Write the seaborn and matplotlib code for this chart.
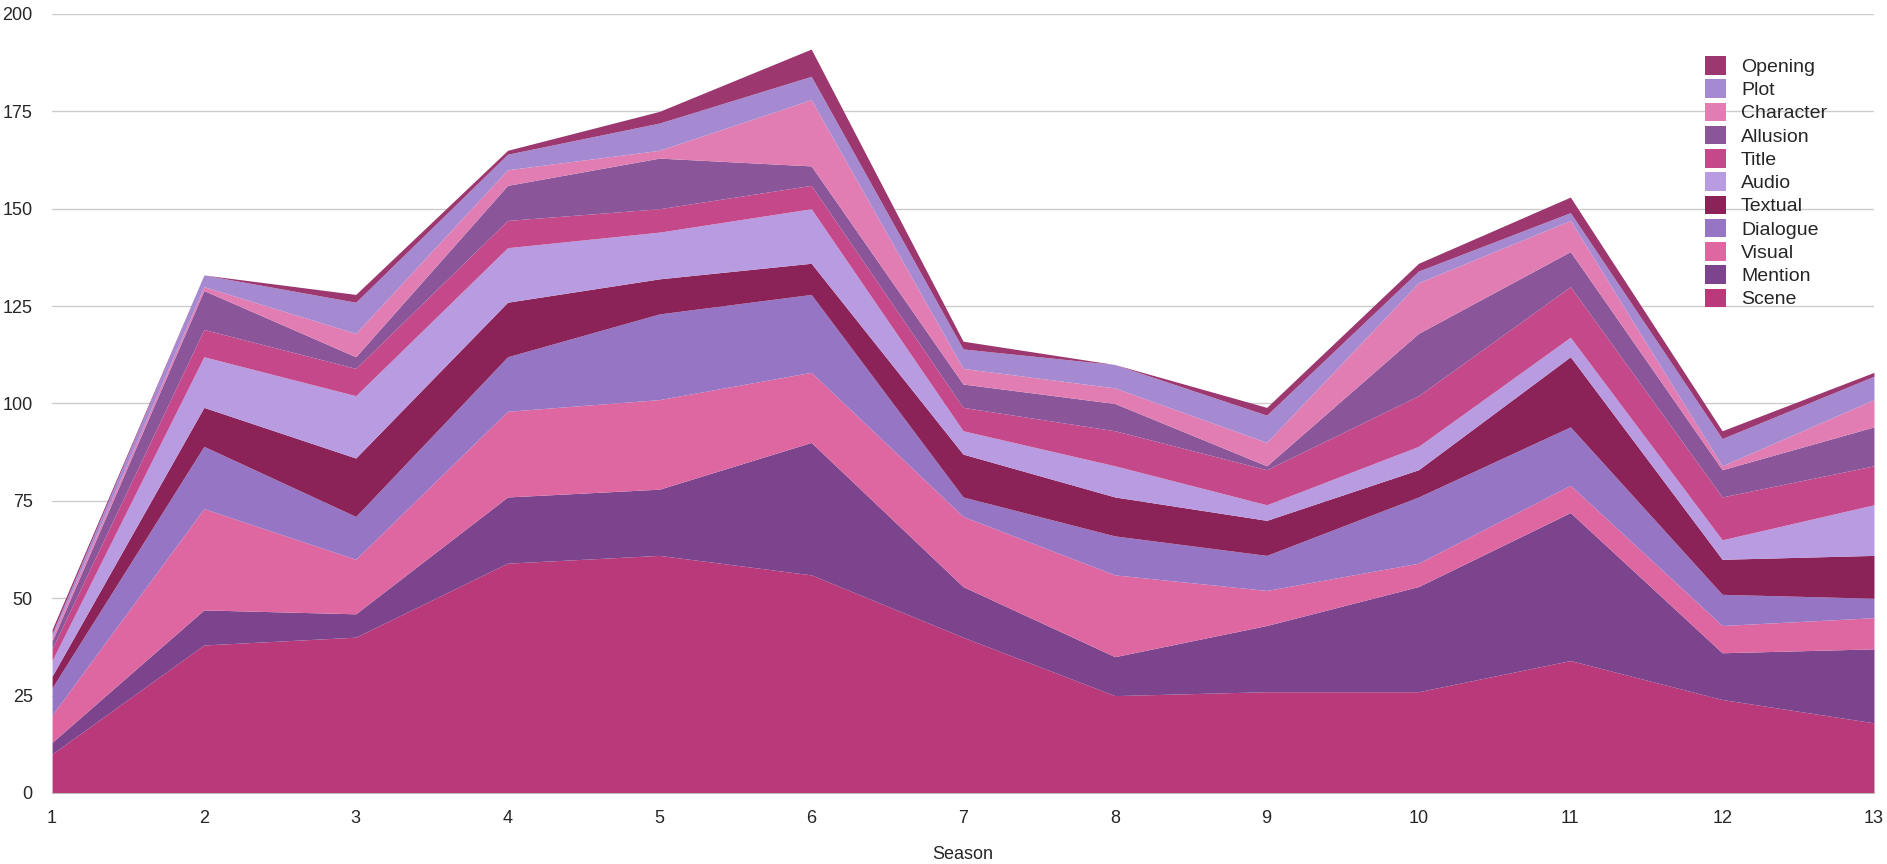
import numpy as np
import matplotlib
matplotlib.use("Agg")
import matplotlib.pyplot as plt
import seaborn as sns

# ------------------------------- Data ------------------------------- #

seasons = list(range(1, 14))

scene     = [10, 38, 40, 59, 61, 56, 40, 25, 26, 26, 34, 24, 18]
mention   = [3, 9, 6, 17, 17, 34, 13, 10, 17, 27, 38, 12, 19]
visual    = [7, 26, 14, 22, 23, 18, 18, 21, 9, 6, 7, 7, 8]
dialogue  = [7, 16, 11, 14, 22, 20, 5, 10, 9, 17, 15, 8, 5]
textual   = [3, 10, 15, 14, 9, 8, 11, 10, 9, 7, 18, 9, 11]
audio     = [4, 13, 16, 14, 12, 14, 6, 8, 4, 6, 5, 5, 13]
title     = [3, 7, 7, 7, 6, 6, 6, 9, 9, 13, 13, 11, 10]
allusion  = [2, 10, 3, 9, 13, 5, 6, 7, 1, 16, 9, 7, 10]
character = [1, 1, 6, 4, 2, 17, 4, 4, 6, 13, 8, 1, 7]
plot      = [1, 3, 8, 4, 7, 6, 5, 6, 7, 3, 2, 7, 6]
opening   = [1, 0, 2, 1, 3, 7, 2, 0, 2, 2, 4, 2, 1]

labels = ["Scene", "Mention", "Visual", "Dialogue", "Textual", "Audio",
          "Title", "Allusion", "Character", "Plot", "Opening"]
colors = ["#b9397a", "#7b448d", "#de67a1", "#9675c5", "#8b2359", "#b89be0",
          "#c4488a", "#8a5599", "#e17db3", "#a68ad1", "#9c386f"]

# ------------------------------- Plot ------------------------------- #

sns.set_style("white")
plt.rcParams["font.family"] = ["Liberation Sans", "DejaVu Sans"]

fig = plt.figure(figsize=(18.87, 8.64), dpi=100)
ax = fig.add_axes([0.0276, 0.0822, 0.9655, 0.9016])

series = [scene, mention, visual, dialogue, textual, audio,
          title, allusion, character, plot, opening]
ax.stackplot(seasons, *series, labels=labels,
             colors=sns.color_palette(colors), linewidth=0)

ax.set_xlim(1, 13)
ax.set_ylim(0, 200)
ax.set_xticks(seasons)
ax.set_yticks(np.arange(0, 201, 25))
ax.yaxis.grid(True, color="#cccccc", linewidth=1)
ax.set_axisbelow(True)
ax.tick_params(axis="both", labelsize=13, length=0)
ax.tick_params(axis="x", pad=12)
ax.tick_params(axis="y", pad=14)
for s in ["top", "right", "left"]:
    ax.spines[s].set_visible(False)
ax.spines["bottom"].set_color("#bbbbbb")

ax.set_xlabel("Season", fontsize=13, labelpad=14)

# Legend, top entry first
handles, labs = ax.get_legend_handles_labels()
ax.legend(handles[::-1], labs[::-1], loc="upper left",
          bbox_to_anchor=(0.903, 0.956), frameon=False, fontsize=14,
          labelspacing=0.17, handlelength=1.1, handleheight=1.1,
          handletextpad=0.75, borderaxespad=0)

fig.savefig("out.png", dpi=100)
